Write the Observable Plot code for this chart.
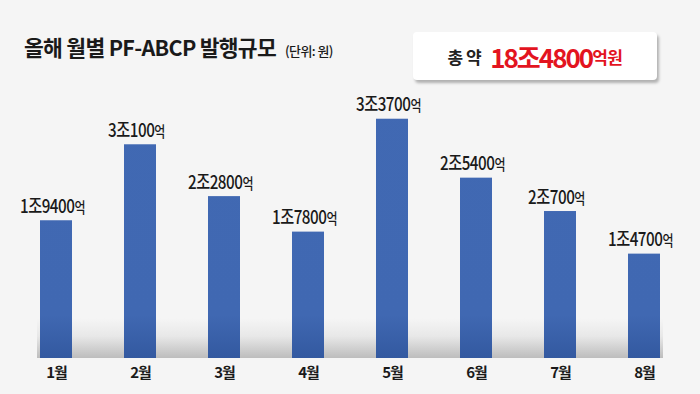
<!DOCTYPE html>
<html><head><meta charset="utf-8">
<script src="https://cdn.jsdelivr.net/npm/d3@7"></script>
<script src="https://cdn.jsdelivr.net/npm/@observablehq/plot@0.6"></script>
<style>
body{margin:0;background:#f5f5f5;}
#wrap{position:relative;width:700px;height:394px;background:#f5f5f5;overflow:hidden;font-family:"Noto Sans CJK KR","Noto Sans",sans-serif;}
#chart{position:absolute;left:0;top:0;}
#title{position:absolute;left:24px;top:36px;font-size:21.5px;line-height:1;font-weight:700;color:#1a1a1a;letter-spacing:-0.7px;white-space:nowrap;}
#title .unit{font-size:13px;font-weight:500;letter-spacing:-0.6px;margin-left:9px;}
#box{position:absolute;left:413px;top:32px;width:244px;height:48px;background:#fff;border-radius:4px;box-shadow:2px 3px 3px rgba(0,0,0,.28);display:flex;align-items:center;justify-content:center;white-space:nowrap;font-weight:700;}
#box .k{font-size:17px;color:#222;letter-spacing:-0.5px;}
#box .num{font-size:26px;color:#e3141f;letter-spacing:-2px;margin-left:9px;}
#box .u{font-size:17px;color:#e3141f;letter-spacing:-0.5px;}
</style></head>
<body>
<div id="wrap">
  <div id="chart"></div>
  <div id="title"></div>
  <div id="box"></div>
</div>
<script>
// Data (values in 억원)
const months = ["1월", "2월", "3월", "4월", "5월", "6월", "7월", "8월"];
const values = [19400, 30100, 22800, 17800, 33700, 25400, 20700, 14700];
const titleText = "올해 월별 PF-ABCP 발행규모";
const unitText = "(단위: 원)";
const totalPrefix = "총 약";
const totalNumber = "18조4800";
const totalUnit = "억원";

const fmt = v => `${Math.floor(v / 10000)}조${v % 10000}억`;
const data = months.map((m, i) => ({month: m, value: values[i], label: fmt(values[i])}));
const labels = data.map(d => d.label);

document.getElementById("title").innerHTML = `${titleText}<span class="unit">${unitText}</span>`;
document.getElementById("box").innerHTML =
  `<span class="k">${totalPrefix}</span><span class="num">${totalNumber}</span><span class="u">${totalUnit}</span>`;

const plot = Plot.plot({
  width: 700,
  height: 394,
  marginTop: 0,
  marginBottom: 36,
  marginLeft: 37,
  marginRight: 37,
  style: {background: "transparent", fontFamily: "'Noto Sans CJK KR', sans-serif"},
  x: {domain: months, paddingInner: 0.62, paddingOuter: 0, label: null},
  y: {domain: [0, 50420], axis: null},
  marks: [
    Plot.rect([0], {y1: 0, y2: 5600, fill: "url(#floorGrad)"}),
    Plot.barY(data, {x: "month", y: "value", fill: "url(#barGrad)"}),
    Plot.text(data, {
      x: "month", y: "value", text: "label", dy: -8, dx: -4,
      lineAnchor: "bottom", fontSize: 19, fill: "#1a1a1a",
      fontWeight: 500
    }),
    Plot.axisX({tickSize: 0, tickPadding: 9, fontSize: 15, fontWeight: "bold", fill: "#1a1a1a"})
  ]
});

const svg = d3.select(plot);
const defs = svg.insert("defs", ":first-child");
const fg = defs.append("linearGradient").attr("id", "floorGrad")
  .attr("x1", 0).attr("y1", 0).attr("x2", 0).attr("y2", 1);
fg.append("stop").attr("offset", 0).attr("stop-color", "#f5f5f5");
fg.append("stop").attr("offset", 0.45).attr("stop-color", "#e8e8e8");
fg.append("stop").attr("offset", 1).attr("stop-color", "#bdbdbd");
const bg = defs.append("linearGradient").attr("id", "barGrad")
  .attr("gradientUnits", "userSpaceOnUse")
  .attr("x1", 0).attr("y1", 0).attr("x2", 0).attr("y2", 358);
bg.append("stop").attr("offset", 0).attr("stop-color", "#4169b3");
bg.append("stop").attr("offset", 0.88).attr("stop-color", "#4068b2");
bg.append("stop").attr("offset", 1).attr("stop-color", "#3359a0");

// Condensed look + smaller "억" in the value labels
svg.selectAll("text").filter(function() { return labels.includes(this.textContent); }).each(function() {
  const t = d3.select(this);
  const s = t.text();
  t.text(null).attr("letter-spacing", "-0.6px");
  t.append("tspan").text(s.slice(0, -1));
  t.append("tspan").attr("font-size", 15).text(s.slice(-1));
  const tr = t.attr("transform") || "";
  const x = +(t.attr("x") || 0), y = +(t.attr("y") || 0);
  t.attr("x", null).attr("y", null)
   .attr("transform", `${tr} translate(${x},${y}) scale(0.8,1)`);
});
// Slightly tighter month labels
svg.selectAll("text").filter(function() { return months.includes(this.textContent); })
  .attr("letter-spacing", "-1px");

document.getElementById("chart").appendChild(plot);
</script>
</body></html>
